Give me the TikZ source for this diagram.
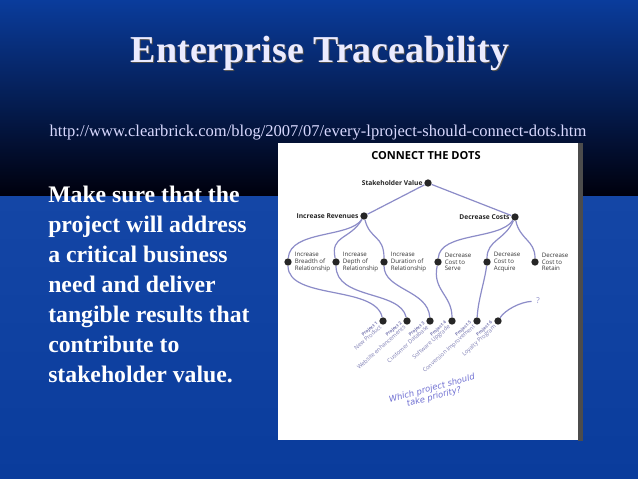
\documentclass[tikz,border=0pt]{standalone}
\usepackage{fontspec}
\setmainfont{Liberation Serif}
\setsansfont{Open Sans}
\newfontfamily\hand{DejaVu Sans}
\begin{document}
\begin{tikzpicture}[x=0.75pt,y=-0.75pt,
  dot/.style={circle,fill=black!85,inner sep=0pt,minimum size=5.5pt},
  lnk/.style={draw=lav,line width=0.9pt},
  midlbl/.style={anchor=west,font=\sffamily\fontsize{4.6}{5}\selectfont,text=black!80,align=left,inner sep=1pt},
  toplbl/.style={font=\sffamily\bfseries\fontsize{5}{6}\selectfont,text=black!85,inner sep=1pt},
  projlbl/.style={anchor=east,rotate=42,align=right,font=\sffamily\fontsize{4.3}{4.3}\selectfont,text=lav!90!black,inner sep=0pt}]
\definecolor{lav}{HTML}{8C8CC8}
\definecolor{topblue}{HTML}{0A3C9C}
\definecolor{lowblue}{HTML}{1446A6}
\useasboundingbox (0,0) rectangle (638,478);
\shade[top color=topblue,bottom color=black!95!blue] (0,0) rectangle (638,196);
\shade[top color=lowblue,bottom color=topblue] (0,196) rectangle (638,478);
% title
\node (title) at (321,54) {\fontsize{28.5}{32}\selectfont\bfseries\color{black!70}Enterprise Traceability};
\node (titlef) at (320,53) {\fontsize{28.5}{32}\selectfont\bfseries\color{white!92!blue}Enterprise Traceability};
\node (url) at (318,133) {\fontsize{12.4}{14}\selectfont\color{white!85!blue}http://www.clearbrick.com/blog/2007/07/every-lproject-should-connect-dots.htm};
% left text
\node[anchor=north west,align=left,text=white,font=\bfseries\fontsize{17.8}{22.5}\selectfont,inner sep=0pt] (body) at (48,186)
 {Make sure that the\\project will address\\a critical business\\need and deliver\\tangible results that\\contribute to\\stakeholder value.};
% panel
\fill[black!70] (578,143) rectangle (583,441);
\fill[white] (278,143) rectangle (578,440);
\node[font=\sffamily\bfseries\fontsize{8.3}{10}\selectfont] (cap) at (426,156) {CONNECT THE DOTS};
% dots
\node[dot] (sv) at (428,183) {};
\node[dot] (ir) at (364,216) {};
\node[dot] (dc) at (515,217) {};
\node[toplbl,anchor=east] (svl) at (sv.west) {Stakeholder Value};
\node[toplbl,anchor=east] (irl) at (ir.west) {Increase Revenues};
\node[toplbl,anchor=east] (dcl) at (dc.west) {Decrease Costs};
\foreach \n/\x/\t in {m1/288/{Increase\\Breadth of\\Relationship},m2/336/{Increase\\Depth of\\Relationship},m3/384/{Increase\\Duration of\\Relationship},m4/438/{Decrease\\Cost to\\Serve},m5/487/{Decrease\\Cost to\\Acquire},m6/535/{Decrease\\Cost to\\Retain}}{
  \node[dot] (\n) at (\x,262) {};
  \node[midlbl] (\n l) at ([xshift=1pt]\n.east) {\t};
}
\foreach \n/\x/\a/\b in {p1/383/Project 1/New Product/Service,p2/407/Project 2/Website enhancements,p3/430/Project 3/Customer Database,p4/452/Project 4/Software Upgrade,p5/477/Project 5/Conversion Improvement,p6/498/Project 6/Loyalty Program}{
  \node[dot] (\n) at (\x,321) {};
  \node[projlbl] (\n l) at ([xshift=-3,yshift=-2.5]\n.center) {{\bfseries\fontsize{3.4}{3.6}\selectfont \a}\\\b};
}
\node[font=\sffamily\fontsize{6}{6}\selectfont,text=lav] (q) at (538,301) {?};
% links
\draw[lnk] (sv) -- (ir);
\draw[lnk] (sv) -- (dc);
\draw[lnk] (ir) .. controls (350,238) and (290,230) .. (m1);
\draw[lnk] (ir) .. controls (350,240) and (330,235) .. (m2);
\draw[lnk] (ir) .. controls (370,240) and (384,235) .. (m3);
\draw[lnk] (dc) .. controls (500,240) and (440,232) .. (m4);
\draw[lnk] (dc) .. controls (505,240) and (487,240) .. (m5);
\draw[lnk] (dc) .. controls (520,240) and (535,240) .. (m6);
\draw[lnk] (m1) .. controls (288,300) and (375,285) .. (p1);
\draw[lnk] (m2) .. controls (336,300) and (400,290) .. (p2);
\draw[lnk] (m3) .. controls (384,290) and (428,290) .. (p3);
\draw[lnk] (m4) .. controls (432,290) and (452,295) .. (p4);
\draw[lnk] (m5) .. controls (485,280) and (478,300) .. (p5);
\draw[lnk] (p6) .. controls (505,310) and (520,302) .. (q);
\node[rotate=15,align=center,text=lav!80!blue,font=\hand\itshape\fontsize{6.3}{6.5}\selectfont] (which) at (433,393) {Which project should\\take priority?};
\end{tikzpicture}
\end{document}
